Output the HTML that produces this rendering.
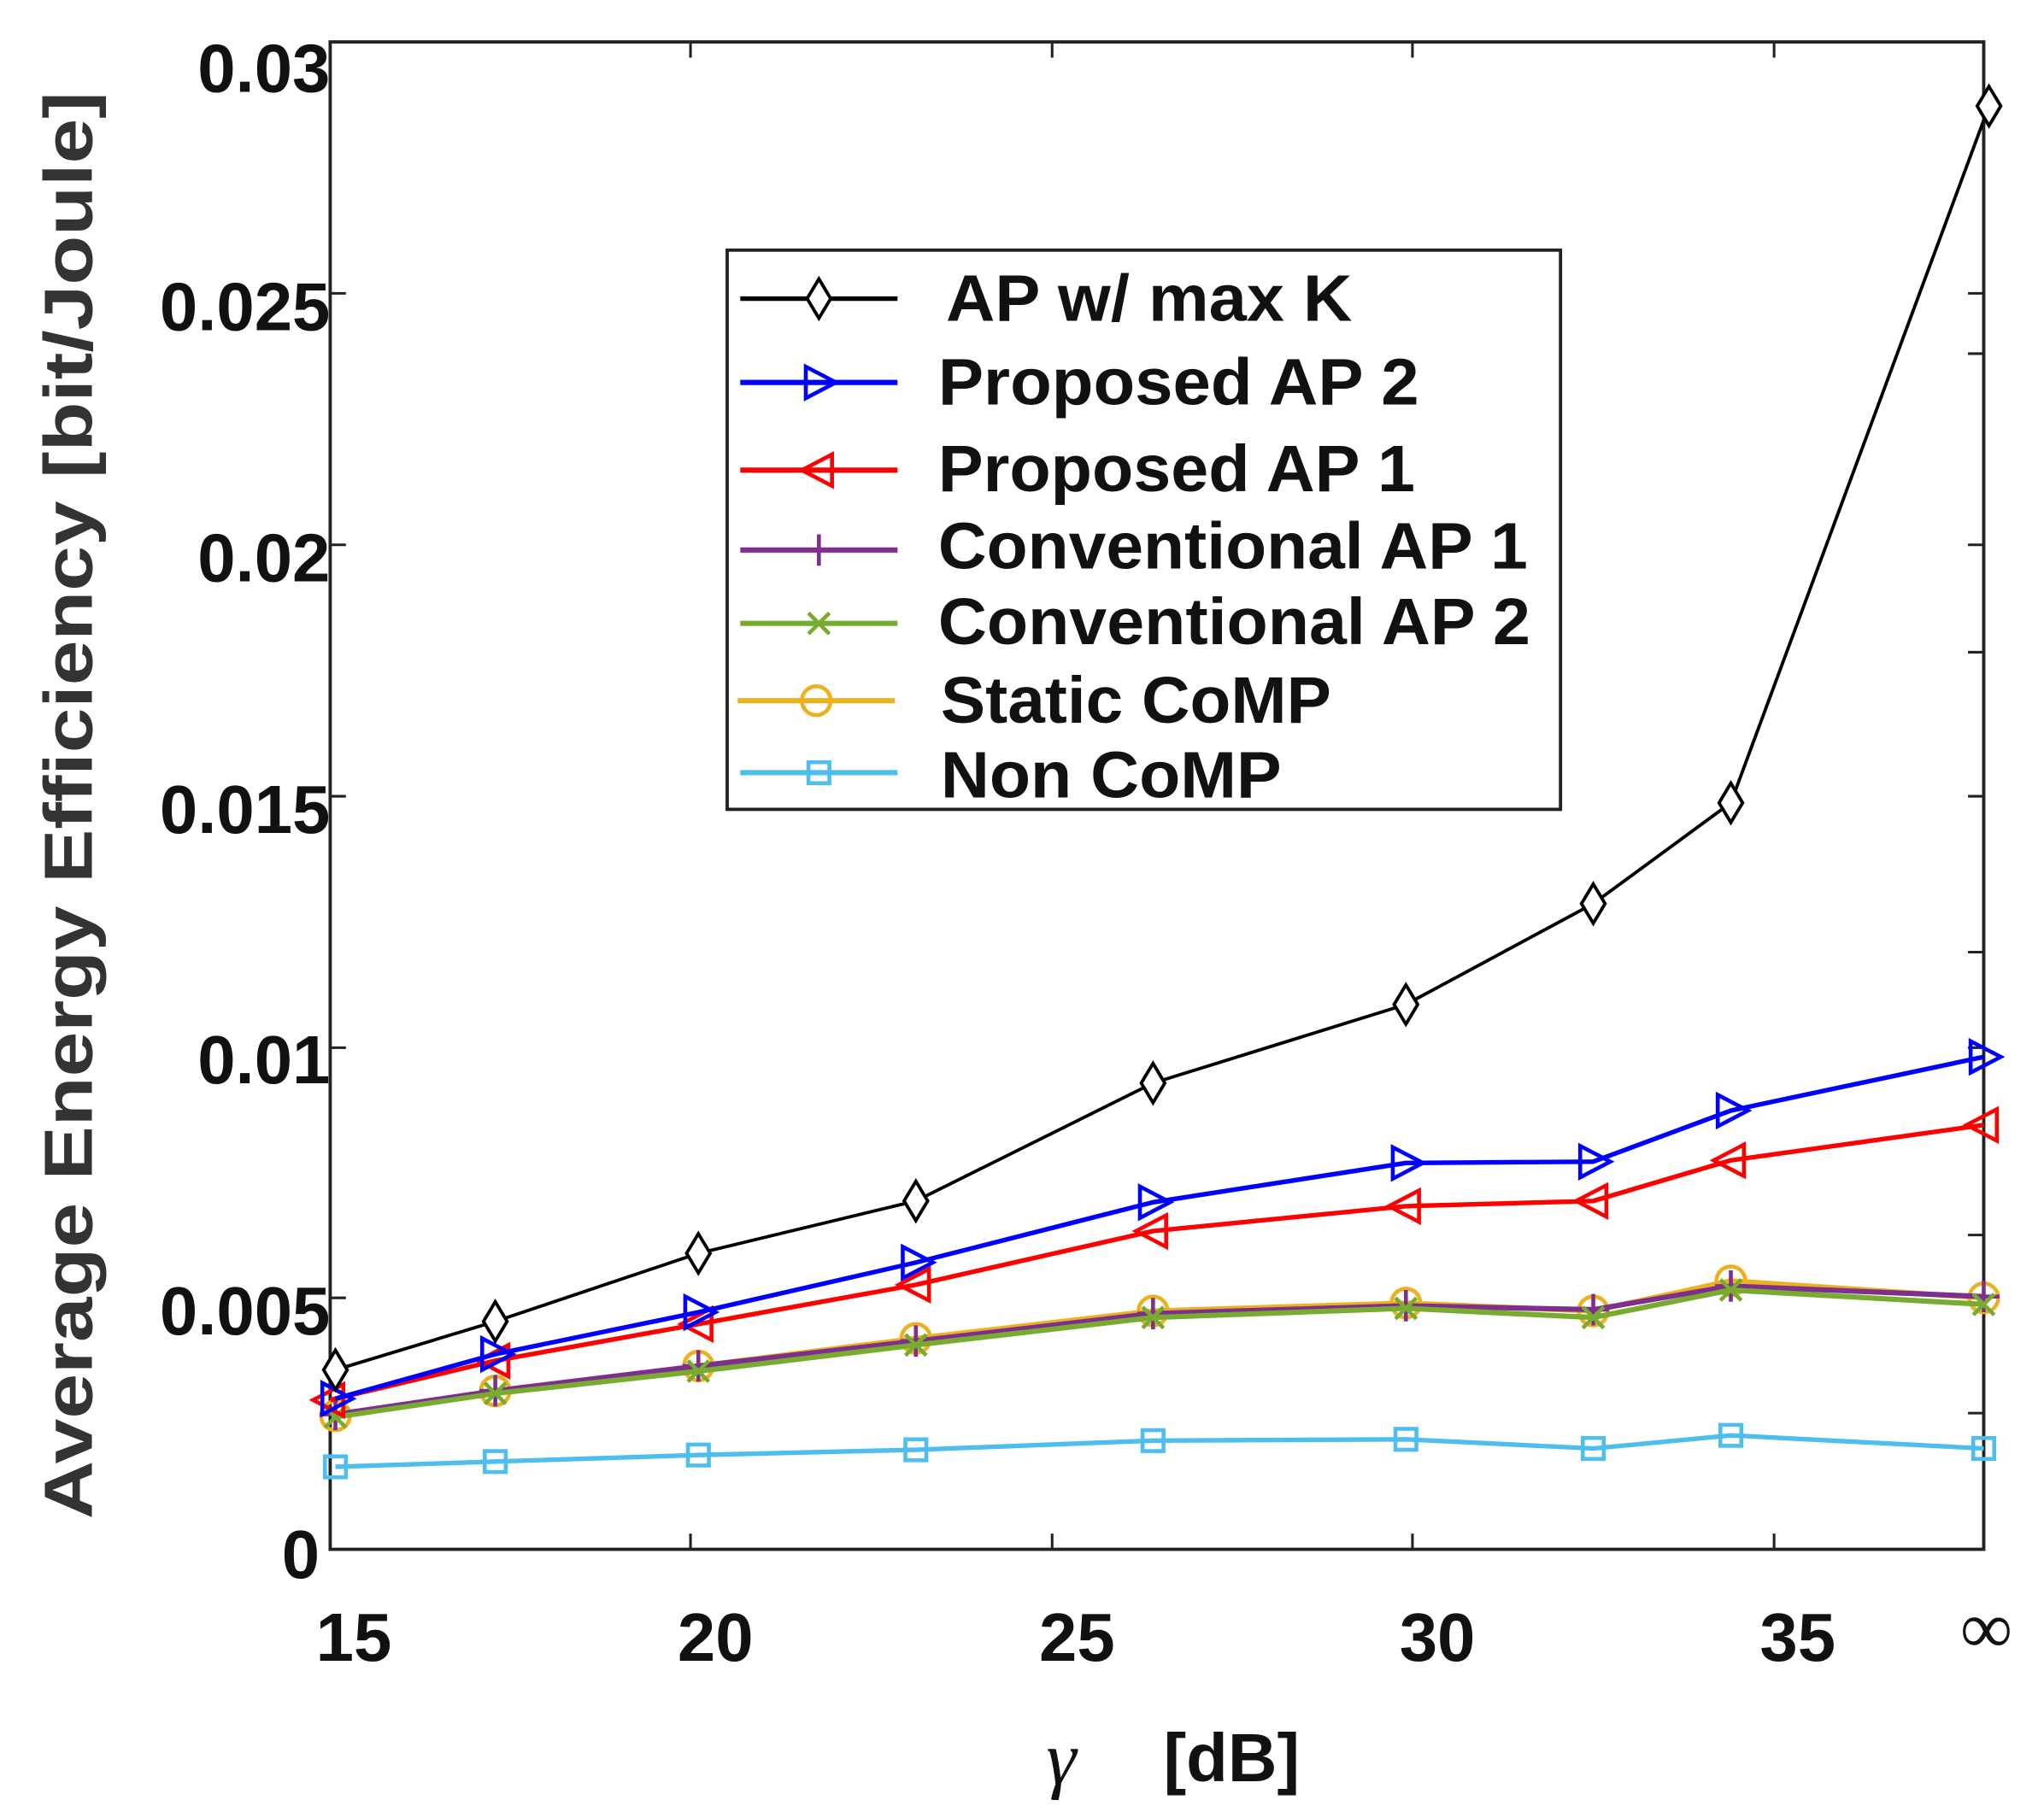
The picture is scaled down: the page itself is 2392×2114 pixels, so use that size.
<!DOCTYPE html>
<html><head><meta charset="utf-8"><style>html,body{margin:0;padding:0;background:#fff}svg{display:block}</style></head>
<body>
<svg width="2392" height="2114" viewBox="0 0 1560 1379" preserveAspectRatio="none" xmlns="http://www.w3.org/2000/svg">
<defs>
<marker id="dia" markerUnits="userSpaceOnUse" markerWidth="40" markerHeight="40" refX="20" refY="20" orient="0" overflow="visible"><path d="M20 5 L29 20 L20 35 L11 20 Z" fill="#fff" stroke="#000" stroke-width="2.5"/></marker>
<marker id="rt" markerUnits="userSpaceOnUse" markerWidth="40" markerHeight="40" refX="20" refY="20" orient="0" overflow="visible"><path d="M10 8 L33 20 L10 32 Z" fill="none" stroke="#00f" stroke-width="3"/></marker>
<marker id="lt" markerUnits="userSpaceOnUse" markerWidth="40" markerHeight="40" refX="20" refY="20" orient="0" overflow="visible"><path d="M30 8 L7 20 L30 32 Z" fill="none" stroke="#f00" stroke-width="3"/></marker>
<marker id="pl" markerUnits="userSpaceOnUse" markerWidth="40" markerHeight="40" refX="20" refY="20" orient="0" overflow="visible"><path d="M20 8 V32 M8 20 H32" stroke="#7e2f8e" stroke-width="3"/></marker>
<marker id="xx" markerUnits="userSpaceOnUse" markerWidth="40" markerHeight="40" refX="20" refY="20" orient="0" overflow="visible"><path d="M12 12 L28 28 M28 12 L12 28" stroke="#77ac30" stroke-width="3"/></marker>
<marker id="ci" markerUnits="userSpaceOnUse" markerWidth="40" markerHeight="40" refX="20" refY="20" orient="0" overflow="visible"><circle cx="20" cy="20" r="11" fill="none" stroke="#edb120" stroke-width="3"/></marker>
<marker id="sq" markerUnits="userSpaceOnUse" markerWidth="40" markerHeight="40" refX="20" refY="20" orient="0" overflow="visible"><rect x="12" y="12" width="16" height="16" fill="none" stroke="#4dbeee" stroke-width="3"/></marker>
</defs>
<rect width="1560" height="1379" fill="#fff"/>
<rect x="252" y="32" width="1262" height="1151" fill="none" stroke="#222" stroke-width="2.5"/>
<g stroke="#222" stroke-width="2">
<path d="M252 991 h12 M252 800 h12 M252 608 h12 M252 416 h12 M252 224 h12"/>
<path d="M1514 991 h-12 M1514 800 h-12 M1514 608 h-12 M1514 416 h-12 M1514 224 h-12 M1514 1079 h-12 M1514 943 h-12 M1514 727 h-12 M1514 498 h-12 M1514 270 h-12"/>
<path d="M527 1183 v-12 M803 1183 v-12 M1078 1183 v-12 M1354 1183 v-12"/>
<path d="M527 32 v12 M803 32 v12 M1078 32 v12 M1354 32 v12"/>
</g>
<g font-family="Liberation Sans, sans-serif" font-weight="bold" font-size="52" fill="#111" text-anchor="end">
<text x="252" y="70">0.03</text>
<text x="252" y="252">0.025</text>
<text x="252" y="444">0.02</text>
<text x="252" y="636">0.015</text>
<text x="252" y="827">0.01</text>
<text x="252" y="1019">0.005</text>
<text x="244" y="1205">0</text>
</g>
<g font-family="Liberation Sans, sans-serif" font-weight="bold" font-size="52" fill="#111" text-anchor="middle">
<text x="270" y="1268">15</text>
<text x="546" y="1268">20</text>
<text x="822" y="1268">25</text>
<text x="1097" y="1268">30</text>
<text x="1372" y="1268">35</text>
<text x="1516" y="1262" font-weight="normal" font-family="Liberation Serif, serif" font-size="56">∞</text>
</g>
<text x="810" y="1362" font-family="Liberation Serif, serif" font-style="italic" font-size="58" fill="#111" text-anchor="middle">γ</text>
<text x="940" y="1360" font-family="Liberation Sans, sans-serif" font-weight="bold" font-size="52" fill="#111" text-anchor="middle">[dB]</text>
<text transform="translate(70,615) rotate(-90)" font-family="Liberation Sans, sans-serif" font-weight="bold" font-size="52" fill="#333" text-anchor="middle" textLength="1090" lengthAdjust="spacingAndGlyphs">Average Energy Efficiency [bit/Joule]</text>
<g fill="none" stroke-linejoin="round">
<polyline stroke="#4dbeee" stroke-width="3.5" marker-start="url(#sq)" marker-mid="url(#sq)" marker-end="url(#sq)" points="256,1120 378,1116 533,1111 699,1107 880,1100 1073,1099 1216,1106 1321,1096 1514,1106"/>
<polyline stroke="#edb120" stroke-width="4" marker-start="url(#ci)" marker-mid="url(#ci)" marker-end="url(#ci)" points="256,1081 378,1062 533,1043 699,1022 880,1001 1073,995 1216,1001 1321,978 1514,991"/>
<polyline stroke="#7e2f8e" stroke-width="4" marker-start="url(#pl)" marker-mid="url(#pl)" marker-end="url(#pl)" points="256,1080 378,1062 533,1043 699,1024 880,1003 1073,997 1216,1000 1321,982 1514,990"/>
<polyline stroke="#77ac30" stroke-width="4" marker-start="url(#xx)" marker-mid="url(#xx)" marker-end="url(#xx)" points="256,1082 378,1064 533,1047 699,1027 880,1006 1073,999 1216,1006 1321,985 1514,996"/>
<polyline stroke="#f00" stroke-width="3.5" marker-start="url(#lt)" marker-mid="url(#lt)" marker-end="url(#lt)" points="252,1069 378,1039 533,1011 699,981 880,940 1073,921 1216,917 1321,886 1514,859"/>
<polyline stroke="#00f" stroke-width="3.5" marker-start="url(#rt)" marker-mid="url(#rt)" marker-end="url(#rt)" points="256,1068 378,1034 533,1002 699,964 880,918 1073,888 1216,887 1321,848 1514,807"/>
<polyline stroke="#000" stroke-width="2.5" marker-start="url(#dia)" marker-mid="url(#dia)" marker-end="url(#dia)" points="256,1046 378,1009 533,957 699,917 880,827 1073,767 1216,690 1321,613 1518,81"/>
</g>
<rect x="555" y="191" width="636" height="427" fill="#fff" stroke="#222" stroke-width="2.5"/>
<g fill="none" stroke-width="4">
<polyline points="565,228 625,228 685,228" stroke="#000" stroke-width="3.5" marker-mid="url(#dia)"/>
<polyline points="565,292 625,292 685,292" stroke="#00f" marker-mid="url(#rt)"/>
<polyline points="565,359 625,359 685,359" stroke="#f00" marker-mid="url(#lt)"/>
<polyline points="565,420 625,420 685,420" stroke="#7e2f8e" marker-mid="url(#pl)"/>
<polyline points="565,476 625,476 685,476" stroke="#77ac30" marker-mid="url(#xx)"/>
<polyline points="563,535 623,535 683,535" stroke="#edb120" marker-mid="url(#ci)"/>
<polyline points="565,590 625,590 685,590" stroke="#4dbeee" marker-mid="url(#sq)"/>
</g>
<g font-family="Liberation Sans, sans-serif" font-weight="bold" font-size="50" fill="#111">
<text x="722" y="245" textLength="310" lengthAdjust="spacingAndGlyphs">AP w/ max K</text>
<text x="716" y="309" textLength="367" lengthAdjust="spacingAndGlyphs">Proposed AP 2</text>
<text x="716" y="375" textLength="364" lengthAdjust="spacingAndGlyphs">Proposed AP 1</text>
<text x="716" y="434" textLength="450" lengthAdjust="spacingAndGlyphs">Conventional AP 1</text>
<text x="716" y="492" textLength="452" lengthAdjust="spacingAndGlyphs">Conventional AP 2</text>
<text x="718" y="552" textLength="298" lengthAdjust="spacingAndGlyphs">Static CoMP</text>
<text x="718" y="609" textLength="260" lengthAdjust="spacingAndGlyphs">Non CoMP</text>
</g>
</svg>
</body></html>
